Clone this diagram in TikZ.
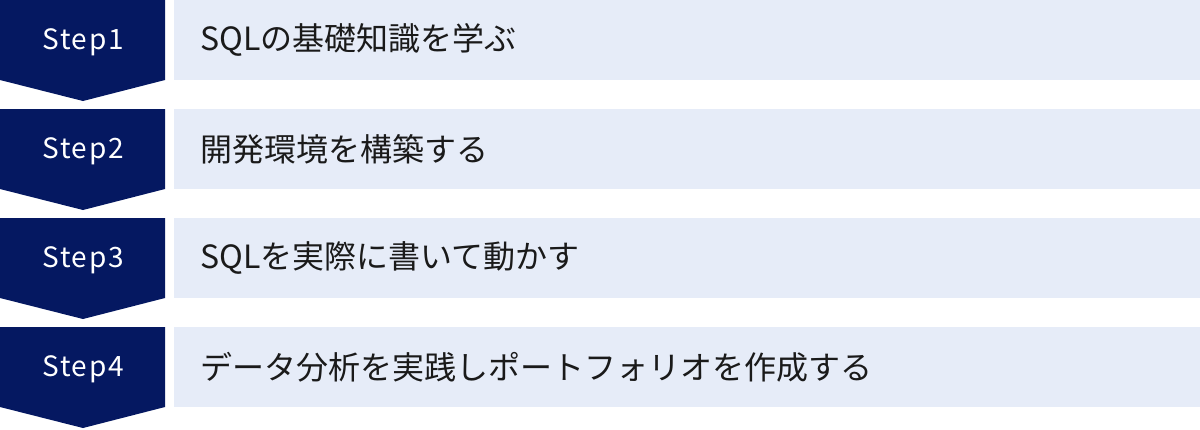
\documentclass[tikz,border=0pt]{standalone}
\usepackage{fontspec}
\setmainfont{Noto Sans CJK JP}
\newfontfamily\stepfont[LetterSpace=6]{Noto Sans CJK JP}
\definecolor{stepnavy}{HTML}{051861}
\definecolor{rowblue}{HTML}{E6ECF8}
\definecolor{rowtext}{HTML}{1A1A1A}

\begin{document}
\begin{tikzpicture}[x=1pt,y=-1pt,
  stepshape/.style={fill=stepnavy},
  steplabel/.style={text=white,font=\stepfont\fontsize{28}{30}\selectfont,inner sep=0pt},
  rowbox/.style={fill=rowblue,anchor=north west,minimum height=80pt,text width=974pt,
    inner xsep=26pt,inner ysep=0pt,align=left,font=\fontsize{32}{34}\selectfont,text=rowtext}]
  \useasboundingbox (0,0) rectangle (1200,429);
  \fill[stepshape] (0,0) -- (165,0) -- (165,80) -- (83,101) -- (0,80) -- cycle;
  \fill[stepshape] (0,109) -- (165,109) -- (165,189) -- (83,210) -- (0,189) -- cycle;
  \fill[stepshape] (0,218) -- (165,218) -- (165,298) -- (83,319) -- (0,298) -- cycle;
  \fill[stepshape] (0,327) -- (165,327) -- (165,407) -- (83,428) -- (0,407) -- cycle;
  \node[steplabel] (s1) at (83,42) {Step1};
  \node[steplabel] (s2) at (83,151) {Step2};
  \node[steplabel] (s3) at (83,260) {Step3};
  \node[steplabel] (s4) at (83,369) {Step4};
  \node[rowbox] (r1) at (174,0) {SQLの基礎知識を学ぶ};
  \node[rowbox] (r2) at (174,109) {開発環境を構築する};
  \node[rowbox] (r3) at (174,218) {SQLを実際に書いて動かす};
  \node[rowbox] (r4) at (174,327) {データ分析を実践しポートフォリオを作成する};
\end{tikzpicture}
\end{document}
